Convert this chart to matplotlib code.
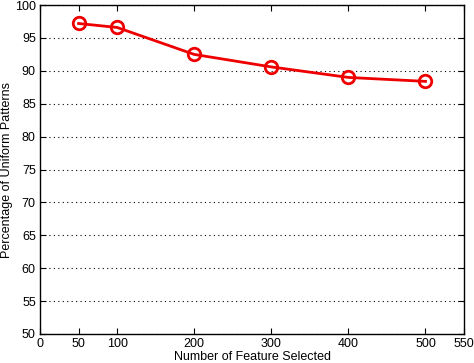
import matplotlib
matplotlib.use("Agg")
import matplotlib.pyplot as plt

plt.rcParams['font.family'] = ['Liberation Sans', 'DejaVu Sans']

# Data
n_features = [50, 100, 200, 300, 400, 500]
uniform_pct = [97.2, 96.6, 92.5, 90.6, 89.0, 88.4]
xticks = [0, 50, 100, 200, 300, 400, 500, 550]
yticks = list(range(50, 101, 5))

fig = plt.figure(figsize=(4.74, 3.63), dpi=100)
ax = fig.add_axes([0.0844, 0.080, 0.8946, 0.906])

ax.plot(n_features, uniform_pct, color='#ee0000', lw=2, marker='o',
        markersize=9, markerfacecolor='none', markeredgewidth=2)

ax.set_xlim(0, 550)
ax.set_ylim(50, 100)
ax.set_xticks(xticks)
ax.set_yticks(yticks)
ax.tick_params(direction='in', top=True, right=True, labelsize=9, length=4, pad=3)
ax.yaxis.grid(True, linestyle=(0, (1, 3)), color='black', lw=0.8)
for s in ax.spines.values():
    s.set_linewidth(1.0)

ax.set_xlabel('Number of Feature Selected', fontsize=9, labelpad=0.5)
ax.set_ylabel('Percentage of Uniform Patterns', fontsize=9, labelpad=1)

fig.savefig('out.png', dpi=100)
